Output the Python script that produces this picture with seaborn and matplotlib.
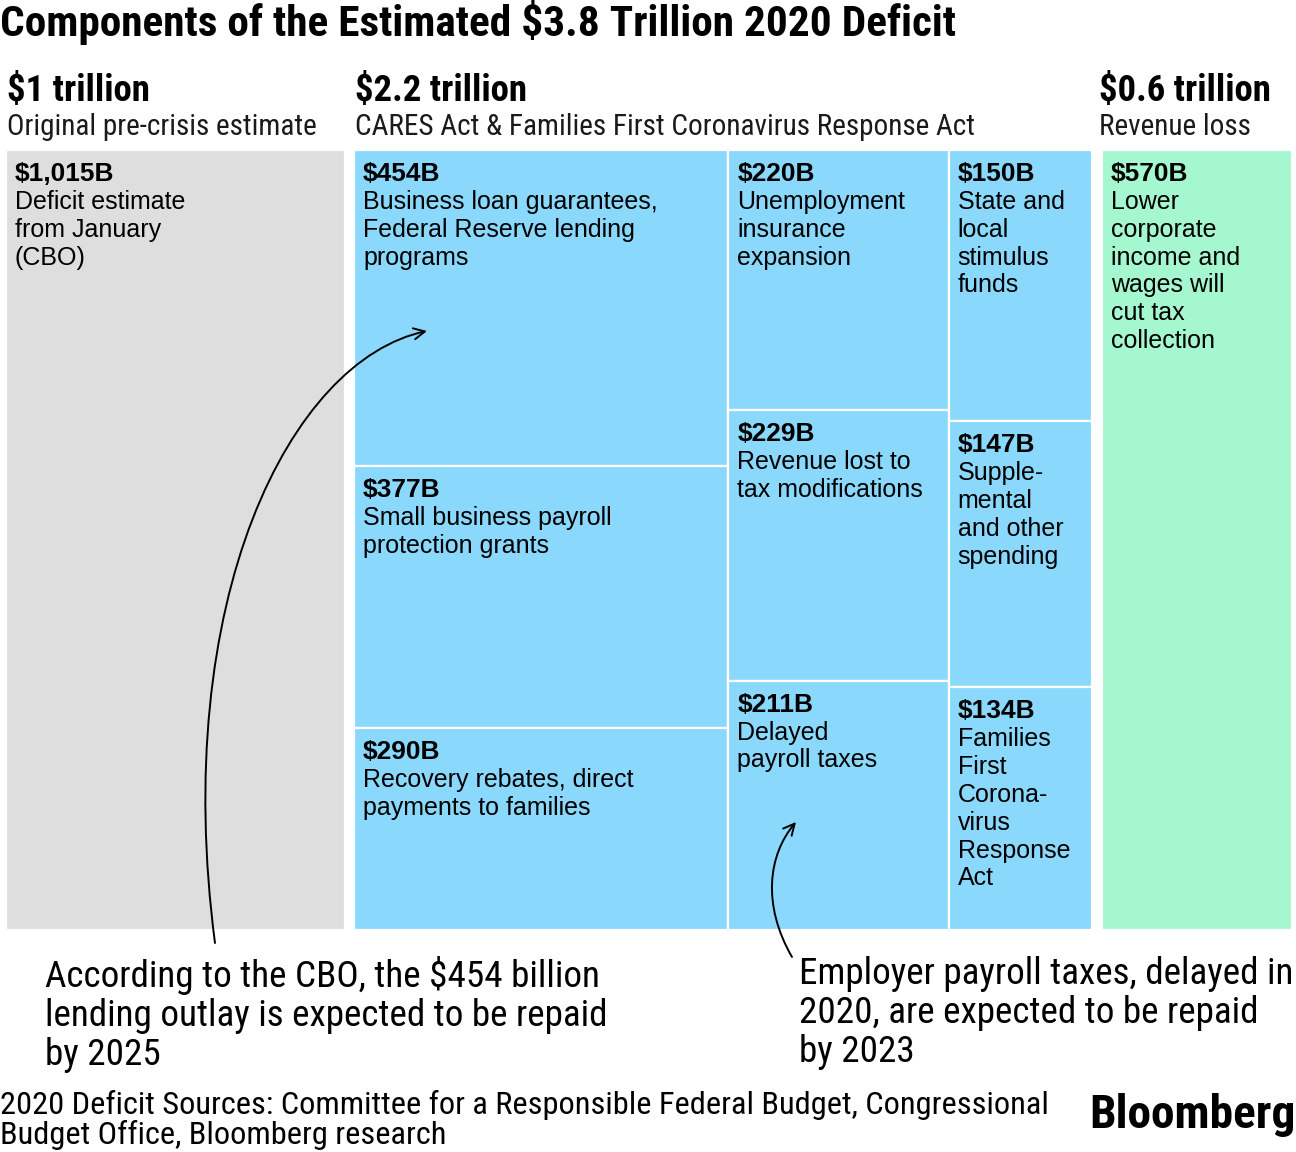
import matplotlib
matplotlib.use("Agg")
import matplotlib.pyplot as plt
import seaborn as sns
import pandas as pd
from matplotlib.patches import FancyArrowPatch
from matplotlib.path import Path

# ---------------- data ----------------
cell_values = [1015, 454, 377, 290, 220, 229, 211, 150, 147, 134, 570]
cell_groups = [0, 1, 1, 1, 1, 1, 1, 1, 1, 1, 2]
cell_columns = [0, 0, 0, 0, 1, 1, 1, 2, 2, 2, 0]
cell_value_labels = ["$1,015B", "$454B", "$377B", "$290B", "$220B", "$229B",
                     "$211B", "$150B", "$147B", "$134B", "$570B"]
cell_descriptions = [
    "Deficit estimate\nfrom January\n(CBO)",
    "Business loan guarantees,\nFederal Reserve lending\nprograms",
    "Small business payroll\nprotection grants",
    "Recovery rebates, direct\npayments to families",
    "Unemployment\ninsurance\nexpansion",
    "Revenue lost to\ntax modifications",
    "Delayed\npayroll taxes",
    "State and\nlocal\nstimulus\nfunds",
    "Supple-\nmental\nand other\nspending",
    "Families\nFirst\nCorona-\nvirus\nResponse\nAct",
    "Lower\ncorporate\nincome and\nwages will\ncut tax\ncollection",
]
group_titles = ["$1 trillion", "$2.2 trillion", "$0.6 trillion"]
group_subtitles = ["Original pre-crisis estimate",
                   "CARES Act & Families First Coronavirus Response Act",
                   "Revenue loss"]
group_colors = ["#DEDEDE", "#8AD8FC", "#A5F7CF"]

title = "Components of the Estimated $3.8 Trillion 2020 Deficit"
note_left = "According to the CBO, the $454 billion\nlending outlay is expected to be repaid\nby 2025"
note_right = "Employer payroll taxes, delayed in\n2020, are expected to be repaid\nby 2023"
source = "2020 Deficit Sources: Committee for a Responsible Federal Budget, Congressional\nBudget Office, Bloomberg research"

# ---------------- style ----------------
sns.set_theme(style="white")
NARROW = ["Roboto Condensed", "Archivo Narrow", "Liberation Sans Narrow", "Liberation Sans", "DejaVu Sans"]
REG = ["Liberation Sans", "DejaVu Sans"]
plt.rcParams["font.family"] = REG
plt.rcParams["text.color"] = "black"

W, H = 1296, 1152
fig = plt.figure(figsize=(W / 100, H / 100), dpi=100)
fig.patch.set_facecolor("white")
renderer = fig.canvas.get_renderer()

def fy(py):
    return 1 - py / H

def fit(txt, target_px):
    """Scale a text's font size so its rendered width matches target_px."""
    w = txt.get_window_extent(renderer=renderer).width
    txt.set_fontsize(txt.get_fontsize() * target_px / w)
    return txt.get_fontsize()

# ---------------- layout from values ----------------
df = pd.DataFrame({"value": cell_values, "group": cell_groups, "column": cell_columns,
                   "vlabel": cell_value_labels, "desc": cell_descriptions})
GAP = 28.0
col_sums = df.groupby(["group", "column"])["value"].sum()
lefts, widths, bottoms, heights = [], [], [], []
group_lefts = {}
x = 0.0
for g in sorted(df["group"].unique()):
    group_lefts[g] = x
    for c in sorted(df.loc[df.group == g, "column"].unique()):
        csum = col_sums[(g, c)]
        cum = 0.0
        for i in df.index[(df.group == g) & (df.column == c)]:
            lefts.append(x)
            widths.append(csum)
            bottoms.append(cum / csum)
            heights.append(df.loc[i, "value"] / csum)
            cum += df.loc[i, "value"]
        x += csum
    x += GAP
total_x = x - GAP
df["left"], df["width"], df["bottom"], df["height"] = lefts, widths, bottoms, heights

ax = fig.add_axes([6 / W, fy(930), 1286 / W, 780 / H])
ax.bar(df["left"], df["height"], width=df["width"], bottom=df["bottom"], align="edge",
       color=[group_colors[g] for g in df["group"]], edgecolor="white", linewidth=1.6)
ax.set_xlim(0, total_x)
ax.set_ylim(1, 0)
ax.axis("off")

for _, r in df.iterrows():
    ax.annotate(r["vlabel"], xy=(r["left"], r["bottom"]), xytext=(9, -12),
                textcoords="offset pixels", ha="left", va="top",
                fontsize=19, fontweight="bold")
    ax.annotate(r["desc"], xy=(r["left"], r["bottom"]), xytext=(9, -40),
                textcoords="offset pixels", ha="left", va="top",
                fontsize=18, linespacing=1.2)

# group headers
head_objs, sub_objs = [], []
for g, gl in group_lefts.items():
    head_objs.append(ax.annotate(group_titles[g], xy=(gl, 0), xytext=(1, 49), textcoords="offset pixels",
                                 ha="left", va="baseline", fontsize=25, fontweight="bold", family=NARROW))
    sub_objs.append(ax.annotate(group_subtitles[g], xy=(gl, 0), xytext=(1, 15), textcoords="offset pixels",
                                ha="left", va="baseline", fontsize=19, family=NARROW, color="#1a1a1a"))
hs = fit(head_objs[1], 172)
for t in head_objs:
    t.set_fontsize(hs)
ss = fit(sub_objs[1], 619)
for t in sub_objs:
    t.set_fontsize(ss)
head_objs[2].set_position((-3, 49))
sub_objs[2].set_position((-3, 15))

# ---------------- texts ----------------
t_title = fig.text(0, fy(36), title, ha="left", va="baseline", fontsize=28, fontweight="bold", family=NARROW)
fit(t_title, 958)
t_nl = fig.text(45 / W, fy(956), note_left, ha="left", va="top", fontsize=24, family=NARROW, linespacing=1.1)
ns = fit(t_nl, 564)
t_nr = fig.text(799 / W, fy(956), note_right, ha="left", va="top", fontsize=ns, family=NARROW, linespacing=1.1)
t_src = fig.text(0, fy(1090), source, ha="left", va="top", fontsize=21, family=NARROW, linespacing=0.98)
fit(t_src, 1045)
t_bb = fig.text(1, fy(1128), "Bloomberg", ha="right", va="baseline", fontsize=29, fontweight="bold",
                family=NARROW)
fit(t_bb, 206)

# ---------------- arrows ----------------
def px(p):
    return (p[0], H - p[1])

def curved_arrow(pts):
    verts = [px(p) for p in pts]
    path = Path(verts, [Path.MOVETO, Path.CURVE4, Path.CURVE4, Path.CURVE4])
    arr = FancyArrowPatch(path=path, arrowstyle="->,head_length=8,head_width=4",
                          transform=None, color="black", lw=1.4)
    fig.patches.append(arr)

curved_arrow([(215, 943), (170, 600), (290, 360), (427, 331)])
curved_arrow([(792, 957), (762, 905), (768, 855), (796, 822)])

fig.savefig("out.png", dpi=100, facecolor="white")
